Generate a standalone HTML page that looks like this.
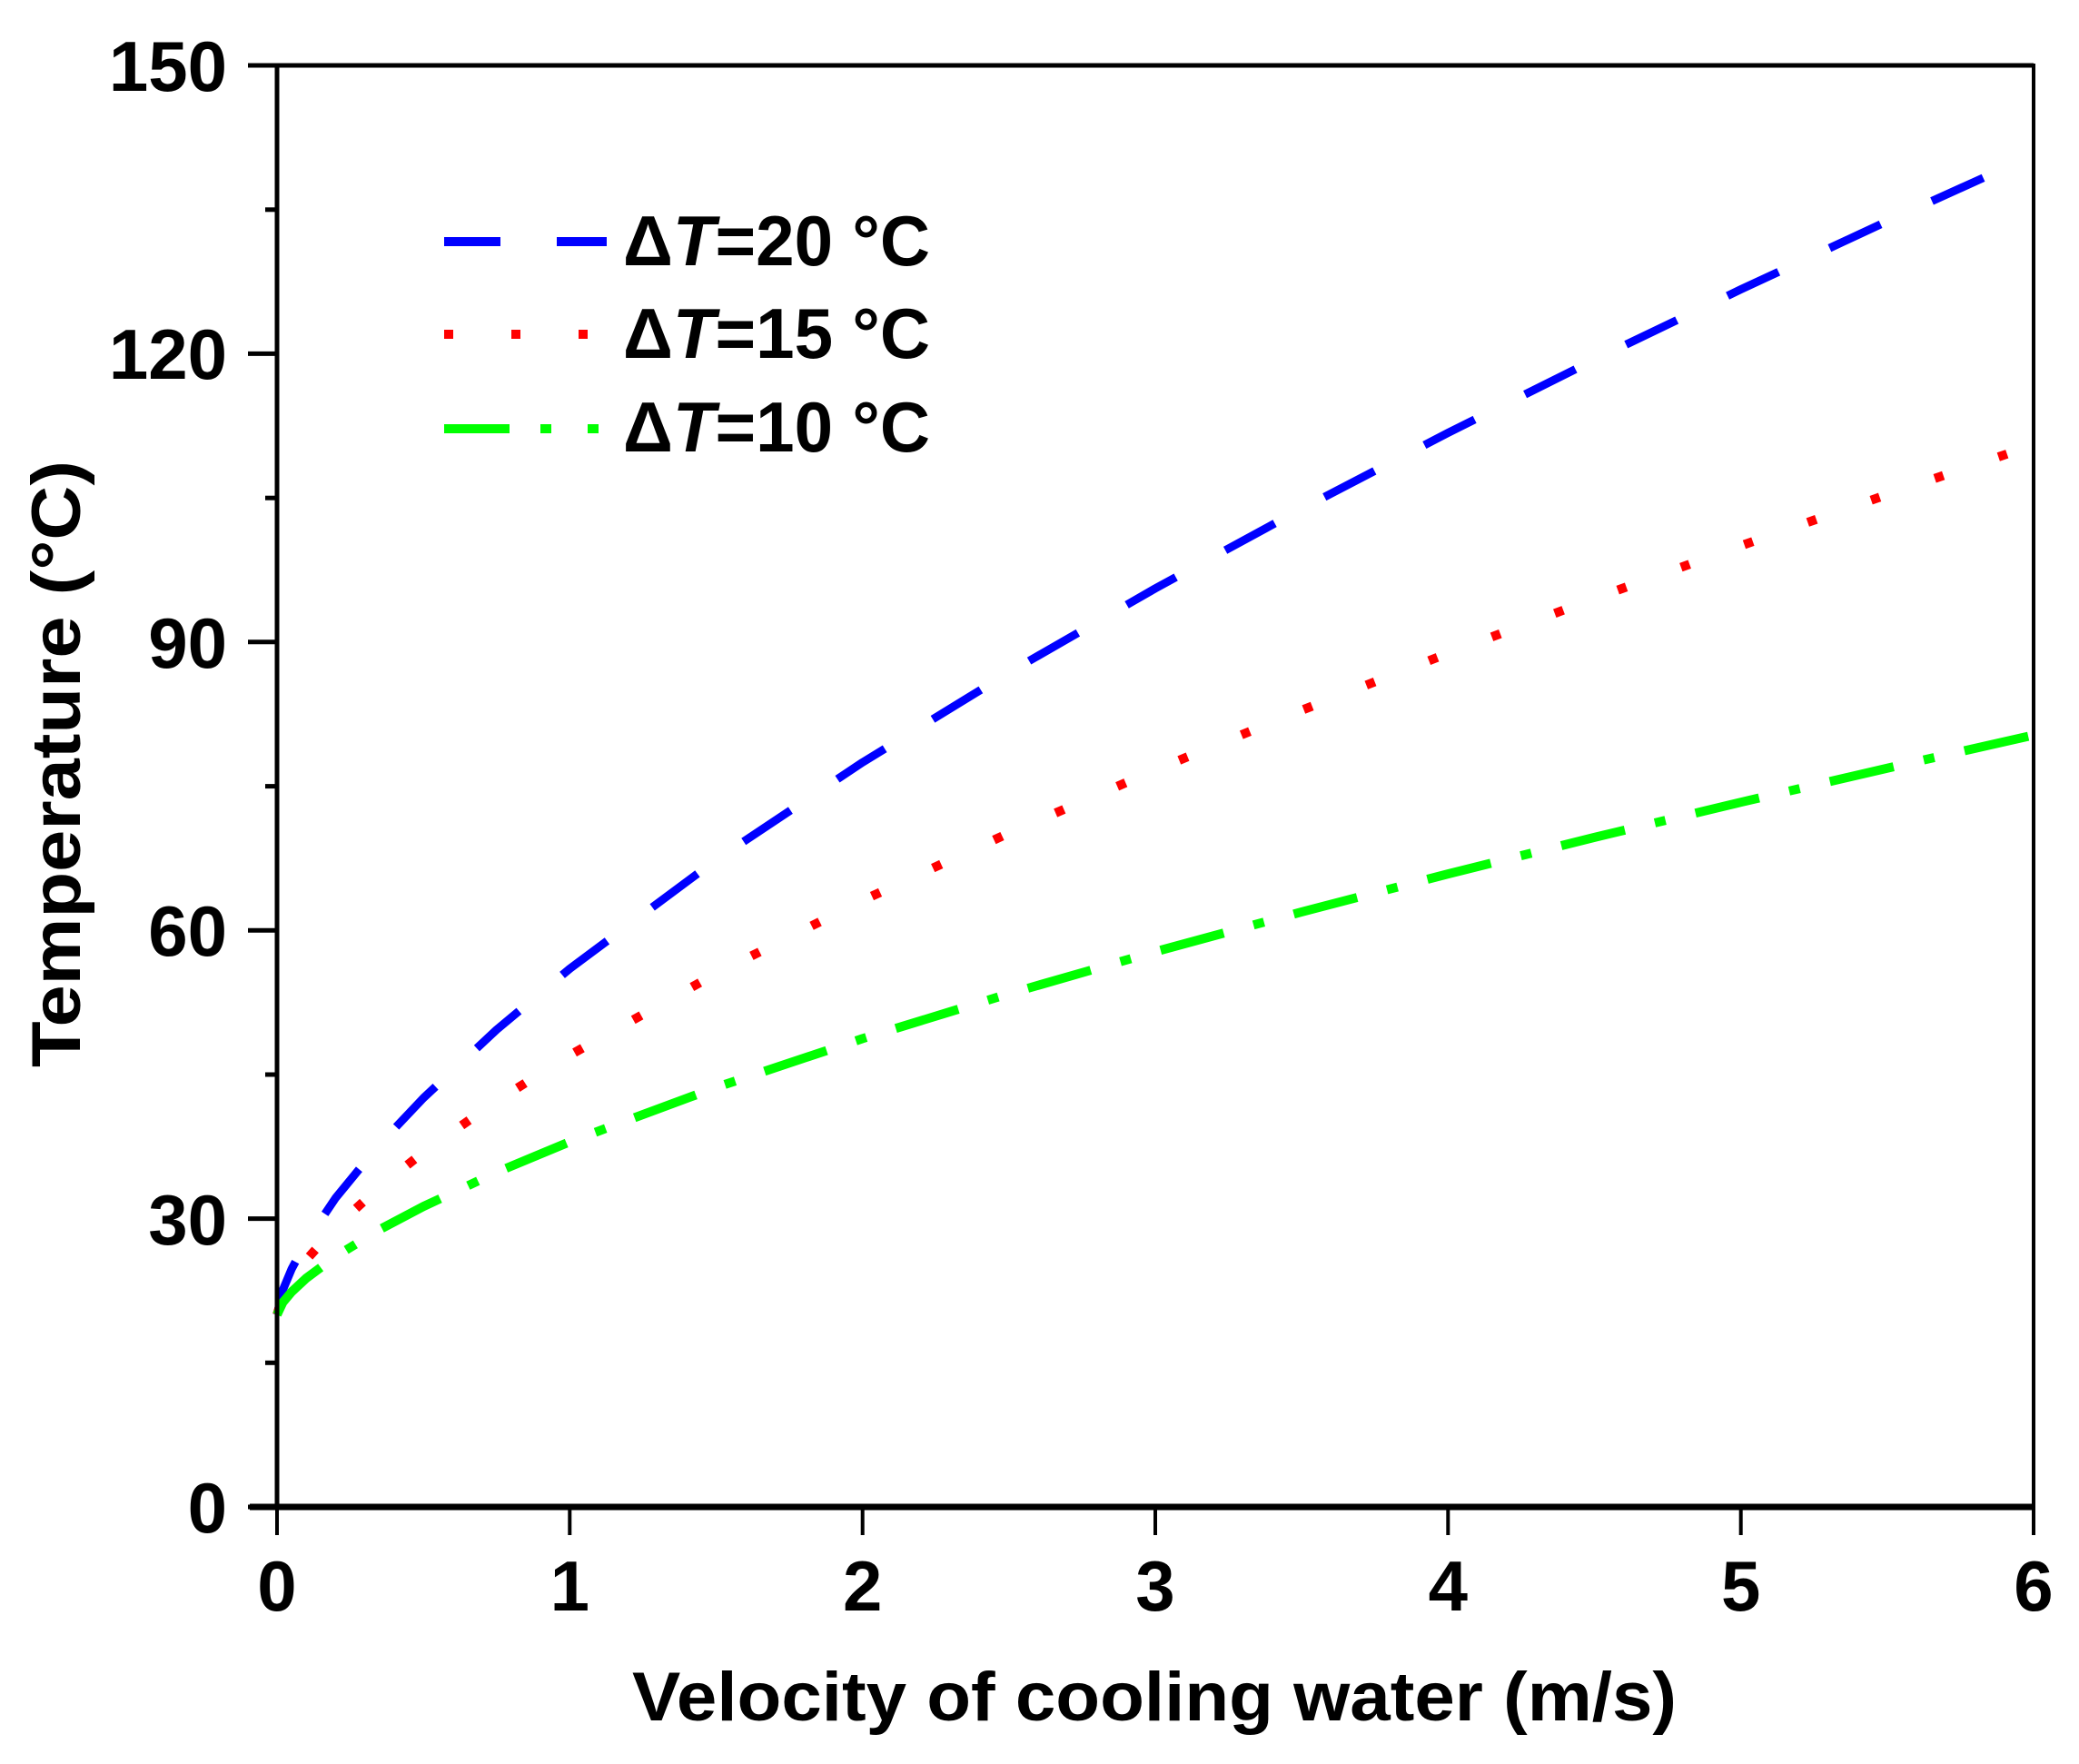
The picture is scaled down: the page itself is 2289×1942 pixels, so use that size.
<!DOCTYPE html>
<html><head><meta charset="utf-8"><style>html,body{margin:0;padding:0;background:#fff}svg{display:block}</style></head>
<body>
<svg width="2289" height="1942" viewBox="0 0 2289 1942" xmlns="http://www.w3.org/2000/svg" font-family="'Liberation Sans', Arial, sans-serif" font-weight="bold">
<rect width="2289" height="1942" fill="#fff"/>
<g fill="none" stroke-linejoin="round">
<polyline stroke="#0000ff" stroke-width="9" stroke-dasharray="62 62" points="305,1447.4 311.4,1420.2 321.1,1397 337.2,1366.9 369.5,1318.9 417.8,1259.9 466.2,1208.8 546.7,1133.7 627.3,1066.5 788.5,946.6 949.7,839.3 1110.8,740.4 1272,647.8 1433.2,560.1 1594.3,476.5 1755.5,396.1 1916.7,318.6 2077.8,243.6 2239,170.8"/>
<polyline stroke="#ff0000" stroke-width="10" stroke-dasharray="10 64" points="305,1447.4 311.4,1427 321.1,1409.6 337.2,1387 369.5,1351 417.8,1306.8 466.2,1268.5 546.7,1212.1 627.3,1161.7 788.5,1071.8 949.7,991.3 1110.8,917.1 1272,847.7 1433.2,781.9 1594.3,719.2 1755.5,658.9 1916.7,600.8 2077.8,544.5 2239,489.9"/>
<polyline stroke="#00ff00" stroke-width="10" stroke-dasharray="72 34 12 34" points="305,1447.4 311.4,1433.8 321.1,1422.2 337.2,1407.2 369.5,1383.2 417.8,1353.7 466.2,1328.2 546.7,1290.6 627.3,1257 788.5,1197.1 949.7,1143.4 1110.8,1094 1272,1047.7 1433.2,1003.9 1594.3,962.1 1755.5,921.9 1916.7,883.2 2077.8,845.7 2239,809.3"/>
</g>
<g stroke="#000">
<line x1="305" y1="72" x2="2239" y2="72" stroke-width="5"/>
<line x1="2239" y1="70" x2="2239" y2="1661" stroke-width="4"/>
<line x1="305" y1="70" x2="305" y2="1662" stroke-width="5"/>
<line x1="275" y1="1659" x2="2241" y2="1659" stroke-width="7"/>
<g stroke-width="5">
<line x1="273" y1="72" x2="305" y2="72"/><line x1="273" y1="389.4" x2="305" y2="389.4"/><line x1="273" y1="706.8" x2="305" y2="706.8"/><line x1="273" y1="1024.2" x2="305" y2="1024.2"/><line x1="273" y1="1341.6" x2="305" y2="1341.6"/><line x1="273" y1="1659" x2="305" y2="1659"/>
<line x1="292" y1="230.8" x2="305" y2="230.8"/><line x1="292" y1="548.2" x2="305" y2="548.2"/><line x1="292" y1="865.6" x2="305" y2="865.6"/><line x1="292" y1="1183" x2="305" y2="1183"/><line x1="292" y1="1500.3" x2="305" y2="1500.3"/>
</g>
<g stroke-width="4">
<line x1="305" y1="1659" x2="305" y2="1690"/><line x1="627.3" y1="1659" x2="627.3" y2="1690"/><line x1="949.7" y1="1659" x2="949.7" y2="1690"/><line x1="1272" y1="1659" x2="1272" y2="1690"/><line x1="1594.3" y1="1659" x2="1594.3" y2="1690"/><line x1="1916.7" y1="1659" x2="1916.7" y2="1690"/><line x1="2239" y1="1659" x2="2239" y2="1690"/>
</g>
</g>
<g font-size="78" text-anchor="end" fill="#000">
<text x="250" y="100">150</text><text x="250" y="417">120</text><text x="250" y="735">90</text><text x="250" y="1052">60</text><text x="250" y="1370">30</text><text x="250" y="1687">0</text>
</g>
<g font-size="78" text-anchor="middle" fill="#000">
<text x="305" y="1773">0</text><text x="627.3" y="1773">1</text><text x="949.7" y="1773">2</text><text x="1272" y="1773">3</text><text x="1594.3" y="1773">4</text><text x="1916.7" y="1773">5</text><text x="2239" y="1773">6</text>
</g>
<text x="696" y="1894" font-size="76" textLength="1150" lengthAdjust="spacingAndGlyphs" fill="#000">Velocity of cooling water (m/s)</text>
<text transform="translate(88,1175) rotate(-90)" font-size="76" textLength="668" lengthAdjust="spacingAndGlyphs" fill="#000">Temperature (°C)</text>
<line x1="489" y1="266" x2="668" y2="266" stroke="#0000ff" stroke-width="10" stroke-dasharray="62 62"/>
<line x1="489" y1="368" x2="668" y2="368" stroke="#ff0000" stroke-width="10" stroke-dasharray="10 64"/>
<line x1="489" y1="472" x2="668" y2="472" stroke="#00ff00" stroke-width="10" stroke-dasharray="72 34 12 40 12 60"/>
<g font-size="78" fill="#000">
<text x="686" y="292" textLength="338" lengthAdjust="spacingAndGlyphs">Δ<tspan font-style="italic">T</tspan>=20 °C</text>
<text x="686" y="394" textLength="338" lengthAdjust="spacingAndGlyphs">Δ<tspan font-style="italic">T</tspan>=15 °C</text>
<text x="686" y="497" textLength="338" lengthAdjust="spacingAndGlyphs">Δ<tspan font-style="italic">T</tspan>=10 °C</text>
</g>
</svg>
</body></html>
